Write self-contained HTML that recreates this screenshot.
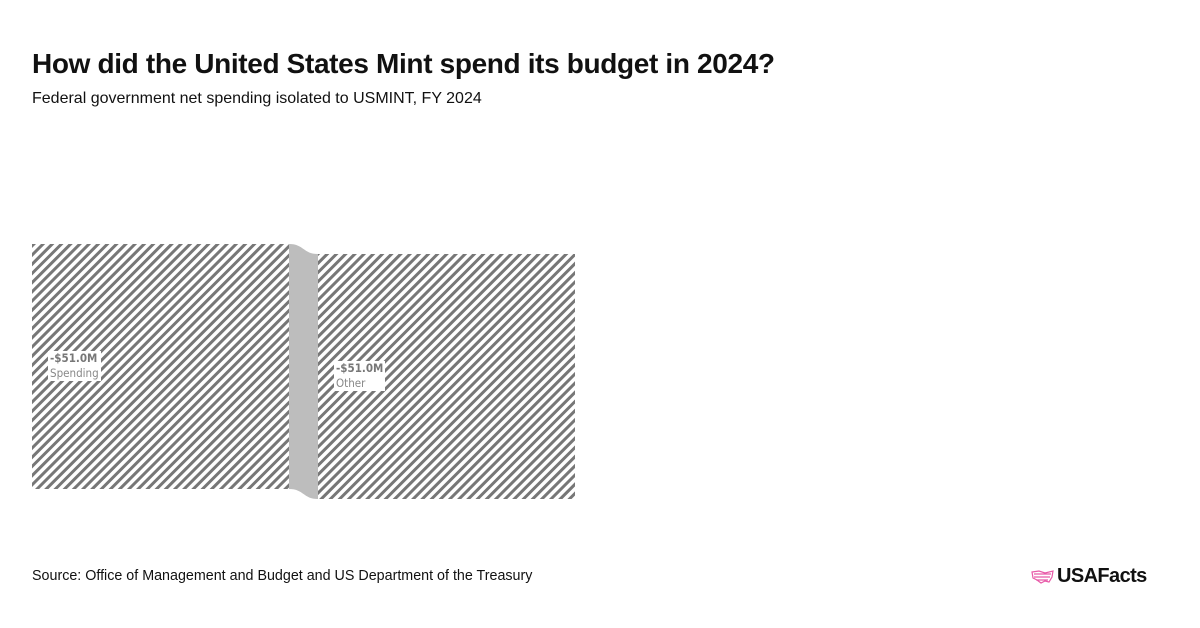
<!DOCTYPE html>
<html><head><style>
body{margin:0;width:1200px;height:628px;background:#fff;font-family:"Liberation Sans",sans-serif;position:relative;overflow:hidden}
.t{position:absolute;left:32px;top:48px;font-size:28px;font-weight:bold;color:#111;letter-spacing:-0.35px}
.s{position:absolute;left:32px;top:90px;font-size:16px;color:#111}
.src{position:absolute;left:32px;top:568px;font-size:14.3px;color:#111}
.lab{position:absolute;background:#fff;font-family:"DejaVu Sans Condensed","Liberation Sans Narrow",sans-serif;font-size:11.5px;color:#888;line-height:15px;padding:0 2px}
.lab b{color:#777}
</style></head><body>
<div class="t">How did the United States Mint spend its budget in 2024?</div>
<div class="s">Federal government net spending isolated to USMINT, FY 2024</div>
<svg width="1200" height="628" style="position:absolute;left:0;top:0">
<defs><pattern id="p" width="6.5" height="6.5" patternUnits="userSpaceOnUse" patternTransform="rotate(45)"><rect width="6.5" height="6.5" fill="#fff"/><rect x="0" y="0" width="3" height="6.5" fill="#777"/></pattern></defs>
<rect x="32" y="244" width="257" height="245" fill="url(#p)"/>
<rect x="318" y="254" width="257" height="245" fill="url(#p)"/>
<path d="M289 244 C304 244 303 254 318 254 L318 499 C303 499 304 489 289 489 Z" fill="#bdbdbd"/>
</svg>
<div class="lab" style="left:48px;top:351px"><b>-$51.0M</b><br>Spending</div>
<div class="lab" style="left:334px;top:361px"><b>-$51.0M</b><br>Other</div>
<div class="src">Source: Office of Management and Budget and US Department of the Treasury</div>
<svg width="24" height="16" style="position:absolute;left:1031px;top:569px" viewBox="0 0 24 16"><path d="M1 3 L8 2 L14 4 L22 2 L21 8 L18 13 L14 12 L10 14 L6 11 L2 9 Z M3 5 L20 5 M3 8 L19 8 M5 11 L17 11" fill="none" stroke="#e85aa8" stroke-width="1.2"/></svg>
<div style="position:absolute;left:1057px;top:565px;font-size:20px;font-weight:bold;color:#111;letter-spacing:-0.6px">USAFacts</div>
</body></html>
